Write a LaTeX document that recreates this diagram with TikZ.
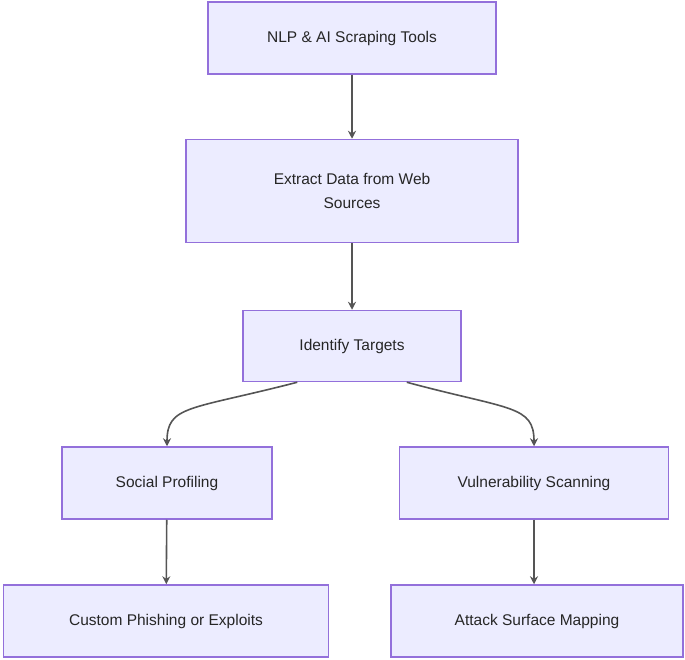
\documentclass[tikz,border=0pt]{standalone}
\usepackage{fontspec}
\setmainfont{Liberation Sans}
\usetikzlibrary{arrows.meta}
\definecolor{nfill}{HTML}{ECECFF}
\definecolor{nborder}{HTML}{9370DB}
\definecolor{edge}{HTML}{555555}
\begin{document}
\begin{tikzpicture}[x=1pt,y=-1pt,
  box/.style={draw=nborder,fill=nfill,line width=1.5pt,inner sep=0pt,align=center,font=\fontsize{15.5}{24}\selectfont,text=black!85},
  arr/.style={draw=edge,line width=1.6pt,-{Stealth[length=8pt,width=8pt]}}]
\useasboundingbox (0,0) rectangle (685,660);
\node[box,minimum width=288pt,minimum height=72pt] (a) at (352,38) {NLP \& AI Scraping Tools};
\node[box,minimum width=332pt,minimum height=103pt] (b) at (352,191) {Extract Data from Web\\Sources};
\node[box,minimum width=218pt,minimum height=71pt] (c) at (352,346) {Identify Targets};
\node[box,minimum width=210pt,minimum height=72pt] (d) at (167,483) {Social Profiling};
\node[box,minimum width=269pt,minimum height=72pt] (e) at (534,483) {Vulnerability Scanning};
\node[box,minimum width=325pt,minimum height=72pt] (f) at (166,621) {Custom Phishing or Exploits};
\node[box,minimum width=292pt,minimum height=72pt] (g) at (537,621) {Attack Surface Mapping};
\coordinate (c1) at ([xshift=55pt]c.south west);
\coordinate (c2) at ([xshift=-55pt]c.south east);
\draw[arr] (a) -- (b);
\draw[arr] (b) -- (c);
\draw[arr] (c1) .. controls (190,410) and (167,405) .. (d.north);
\draw[arr] (c2) .. controls (510,410) and (534,405) .. (e.north);
\draw[arr] (d) -- (f);
\draw[arr] (e) -- (e |- g.north);
\end{tikzpicture}
\end{document}
